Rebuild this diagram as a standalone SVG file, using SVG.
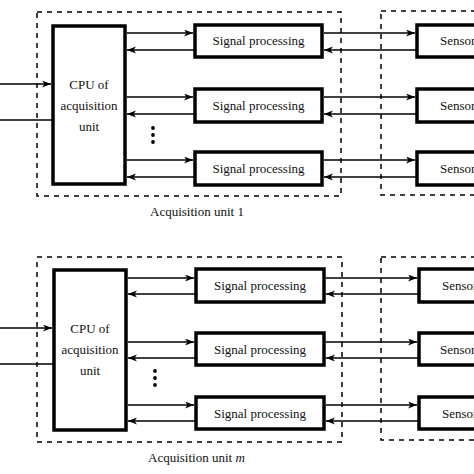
<svg xmlns="http://www.w3.org/2000/svg" width="474" height="474" viewBox="0 0 474 474">
<defs>
<style>
.box{fill:#fff;stroke:#000;stroke-width:3.5}
.dash{fill:none;stroke:#000;stroke-width:1.5;stroke-dasharray:5 5}
.ln{fill:none;stroke:#000;stroke-width:1.3}
.ar{marker-end:url(#ah)}
text{font-family:"Liberation Serif","Times New Roman",serif;font-size:13px;fill:#111}
.c{text-anchor:middle}
</style>
<marker id="ah" markerUnits="userSpaceOnUse" markerWidth="10" markerHeight="8" refX="9" refY="3.5" orient="auto">
<path d="M0,0 L9,3.5 L0,7 L2.5,3.5 z" fill="#000"/>
</marker>
</defs>
<rect width="474" height="474" fill="#fff"/>

<!-- Group 1 -->
<g id="unit1">
<rect class="dash" x="37" y="12" width="304" height="184"/>
<rect class="dash" x="381" y="11" width="120" height="184"/>
<text x="150" y="216">Acquisition unit 1</text>
</g>
<g id="cpu1"><rect class="box" x="53" y="26" width="72" height="158"/>
<text class="c" x="89" y="89">CPU of</text><text class="c" x="89" y="110">acquisition</text><text class="c" x="89" y="131">unit</text></g>
<g id="sp1a"><rect class="box" x="195" y="25" width="127" height="32"/><text class="c" x="258.5" y="45">Signal processing</text></g>
<g id="sp1b"><rect class="box" x="195" y="89" width="127" height="33"/><text class="c" x="258.5" y="110">Signal processing</text></g>
<g id="sp1c"><rect class="box" x="195" y="152" width="127" height="33"/><text class="c" x="258.5" y="173">Signal processing</text></g>
<g id="se1a"><rect class="box" x="417" y="25" width="80" height="32"/><text x="440" y="45">Sensor</text></g>
<g id="se1b"><rect class="box" x="417" y="89" width="80" height="33"/><text x="440" y="110">Sensor</text></g>
<g id="se1c"><rect class="box" x="417" y="152" width="80" height="33"/><text x="440" y="173">Sensor</text></g>
<g id="dots1"><circle cx="153" cy="128" r="1.9"/><circle cx="153" cy="135" r="1.9"/><circle cx="153" cy="142" r="1.9"/></g>

<!-- Group 2 -->
<g id="unitm">
<rect class="dash" x="37" y="257" width="305" height="185"/>
<rect class="dash" x="381" y="257" width="120" height="183"/>
<text x="148" y="462">Acquisition unit <tspan font-style="italic">m</tspan></text>
</g>
<g id="cpum"><rect class="box" x="54" y="270" width="72" height="160"/>
<text class="c" x="90" y="333">CPU of</text><text class="c" x="90" y="354">acquisition</text><text class="c" x="90" y="375">unit</text></g>
<g id="spma"><rect class="box" x="196" y="269" width="128" height="33"/><text class="c" x="260" y="290">Signal processing</text></g>
<g id="spmb"><rect class="box" x="196" y="333" width="128" height="32"/><text class="c" x="260" y="354">Signal processing</text></g>
<g id="spmc"><rect class="box" x="196" y="397" width="128" height="32"/><text class="c" x="260" y="418">Signal processing</text></g>
<g id="sema"><rect class="box" x="419" y="269" width="80" height="33"/><text x="442" y="290">Sensor</text></g>
<g id="semb"><rect class="box" x="419" y="333" width="80" height="32"/><text x="440" y="354">Sensor</text></g>
<g id="semc"><rect class="box" x="419" y="397" width="80" height="32"/><text x="442" y="418">Sensor</text></g>
<g id="dotsm"><circle cx="155" cy="371" r="1.9"/><circle cx="155" cy="378" r="1.9"/><circle cx="155" cy="385" r="1.9"/></g>

<g id="connectors">
<path class="ln ar" d="M0,84 H51"/>
<path class="ln" d="M0,120 H53"/>
<path class="ln ar" d="M127,33 H193"/><path class="ln ar" d="M195,50 H127"/>
<path class="ln ar" d="M127,97 H193"/><path class="ln ar" d="M195,114 H127"/>
<path class="ln ar" d="M127,160 H193"/><path class="ln ar" d="M195,177 H127"/>
<path class="ln ar" d="M324,33 H415"/><path class="ln ar" d="M417,50 H324"/>
<path class="ln ar" d="M324,97 H415"/><path class="ln ar" d="M417,114 H324"/>
<path class="ln ar" d="M324,160 H415"/><path class="ln ar" d="M417,177 H324"/>

<path class="ln ar" d="M0,328 H52"/>
<path class="ln" d="M0,364 H54"/>
<path class="ln ar" d="M128,278 H194"/><path class="ln ar" d="M196,294 H128"/>
<path class="ln ar" d="M128,342 H194"/><path class="ln ar" d="M196,358 H128"/>
<path class="ln ar" d="M128,405 H194"/><path class="ln ar" d="M196,421 H128"/>
<path class="ln ar" d="M326,278 H417"/><path class="ln ar" d="M419,294 H326"/>
<path class="ln ar" d="M326,342 H417"/><path class="ln ar" d="M419,358 H326"/>
<path class="ln ar" d="M326,405 H417"/><path class="ln ar" d="M419,421 H326"/>
</g>
</svg>
